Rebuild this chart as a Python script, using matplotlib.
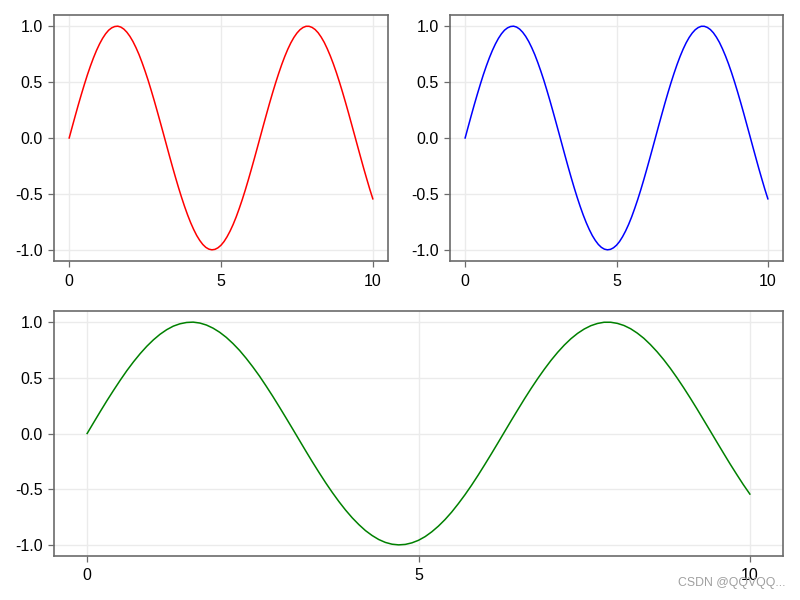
import matplotlib
matplotlib.use("Agg")
import matplotlib.pyplot as plt

plt.rcParams['font.family'] = ['Liberation Sans', 'DejaVu Sans']
plt.rcParams['axes.unicode_minus'] = False

x_vals = [0.0, 0.1, 0.2, 0.3, 0.4, 0.5, 0.6, 0.7, 0.8, 0.9,
          1.0, 1.1, 1.2, 1.3, 1.4, 1.5, 1.6, 1.7, 1.8, 1.9,
          2.0, 2.1, 2.2, 2.3, 2.4, 2.5, 2.6, 2.7, 2.8, 2.9,
          3.0, 3.1, 3.2, 3.3, 3.4, 3.5, 3.6, 3.7, 3.8, 3.9,
          4.0, 4.1, 4.2, 4.3, 4.4, 4.5, 4.6, 4.7, 4.8, 4.9,
          5.0, 5.1, 5.2, 5.3, 5.4, 5.5, 5.6, 5.7, 5.8, 5.9,
          6.0, 6.1, 6.2, 6.3, 6.4, 6.5, 6.6, 6.7, 6.8, 6.9,
          7.0, 7.1, 7.2, 7.3, 7.4, 7.5, 7.6, 7.7, 7.8, 7.9,
          8.0, 8.1, 8.2, 8.3, 8.4, 8.5, 8.6, 8.7, 8.8, 8.9,
          9.0, 9.1, 9.2, 9.3, 9.4, 9.5, 9.6, 9.7, 9.8, 9.9, 10.0]
y_vals = [0.000, 0.100, 0.199, 0.296, 0.389, 0.479, 0.565, 0.644, 0.717, 0.783,
          0.841, 0.891, 0.932, 0.964, 0.985, 0.997, 1.000, 0.992, 0.974, 0.946,
          0.909, 0.863, 0.808, 0.746, 0.675, 0.598, 0.516, 0.427, 0.335, 0.239,
          0.141, 0.042, -0.058, -0.158, -0.256, -0.351, -0.443, -0.530, -0.612, -0.688,
          -0.757, -0.818, -0.872, -0.916, -0.952, -0.978, -0.994, -1.000, -0.996, -0.982,
          -0.959, -0.926, -0.883, -0.832, -0.773, -0.706, -0.631, -0.551, -0.465, -0.374,
          -0.279, -0.182, -0.083, 0.017, 0.117, 0.215, 0.312, 0.405, 0.494, 0.578,
          0.657, 0.729, 0.794, 0.851, 0.899, 0.938, 0.968, 0.988, 0.999, 0.999,
          0.989, 0.970, 0.941, 0.902, 0.855, 0.798, 0.734, 0.663, 0.585, 0.501,
          0.412, 0.319, 0.223, 0.124, 0.025, -0.075, -0.174, -0.272, -0.366, -0.458, -0.544]

x_ticks = [0, 5, 10]
y_ticks = [-1.0, -0.5, 0.0, 0.5, 1.0]
y_tick_labels = ["-1.0", "-0.5", "0.0", "0.5", "1.0"]
line_colors = ["red", "blue", "green"]

fig = plt.figure(figsize=(8, 6), dpi=100)
rects = [
    [54/800, 1-261/600, 334/800, 246/600],
    [450/800, 1-261/600, 333/800, 246/600],
    [54/800, 1-556/600, 729/800, 245/600],
]

spine_col = '#6b6b6b'
for rect, col in zip(rects, line_colors):
    ax = fig.add_axes(rect)
    ax.plot(x_vals, y_vals, color=col, lw=1.1, zorder=3)
    ax.set_xlim(-0.5, 10.5)
    ax.set_ylim(-1.1, 1.1)
    ax.set_xticks(x_ticks)
    ax.set_yticks(y_ticks)
    ax.set_yticklabels(y_tick_labels)
    ax.grid(True, color='#ebebeb', lw=1.0, zorder=0)
    ax.set_axisbelow(True)
    for s in ax.spines.values():
        s.set_color(spine_col)
        s.set_linewidth(1.2)
    ax.tick_params(direction='out', length=4, width=0.9, color=spine_col,
                   labelsize=11.5, labelcolor='black')
    ax.tick_params(axis='x', pad=5)
    ax.tick_params(axis='y', pad=4)

fig.text(785/800, 1-583/600, "CSDN @QQVQQ...", ha='right', va='center',
         fontsize=8.8, color='#a0a0a0')

fig.savefig("out.png", dpi=100)
